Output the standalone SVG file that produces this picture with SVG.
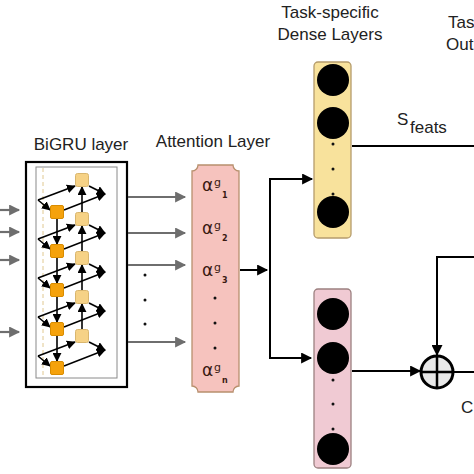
<svg xmlns="http://www.w3.org/2000/svg" width="474" height="474" viewBox="0 0 474 474">
<defs>
<marker id="ab" viewBox="0 0 10 10" refX="9" refY="5" markerWidth="9" markerHeight="9" markerUnits="userSpaceOnUse" orient="auto"><path d="M0,0 L10,5 L0,10 Z" fill="#000"/></marker>
<marker id="ag" viewBox="0 0 10 10" refX="9" refY="5" markerWidth="12" markerHeight="11" markerUnits="userSpaceOnUse" orient="auto"><path d="M0,0 L10,5 L0,10 Z" fill="#6e6e6e"/></marker>
<marker id="ak" viewBox="0 0 10 10" refX="9" refY="5" markerWidth="13" markerHeight="11" markerUnits="userSpaceOnUse" orient="auto"><path d="M0,0 L10,5 L0,10 Z" fill="#000"/></marker>
</defs>
<style>
.lbl{font-family:"Liberation Sans",Arial,sans-serif;font-size:17px;fill:#222}
.al{font-family:"DejaVu Sans","Liberation Sans",sans-serif;fill:#3a1a12}
.g{stroke:#6e6e6e;stroke-width:2.2;fill:none}
.k{stroke:#000;stroke-width:2;fill:none}
.s{stroke:#000;stroke-width:1.6;fill:none}
.dk{fill:#f5a20c;stroke:#d98c00;stroke-width:1}
.lt{fill:#f6d286;stroke:#d9b66e;stroke-width:1}
.dot{fill:#111}
.n{fill:#000}
</style>
<rect width="474" height="474" fill="#fff"/>

<g id="labels">
<text class="lbl" x="81" y="150" text-anchor="middle">BiGRU layer</text>
<text class="lbl" x="213" y="147" text-anchor="middle">Attention Layer</text>
<text class="lbl" x="330" y="18" text-anchor="middle" font-size="16">Task-specific</text>
<text class="lbl" x="330" y="40" text-anchor="middle">Dense Layers</text>
<text class="lbl" x="448" y="28" font-size="16">Tas</text>
<text class="lbl" x="446" y="50">Out</text>
<text class="lbl" x="397" y="125" font-size="18">S</text>
<text class="lbl" x="410" y="133" font-size="10">feats</text>
<text class="lbl" x="461" y="413">C</text>
</g>

<g id="inputs">
<line class="g" x1="0" y1="210" x2="19" y2="210" marker-end="url(#ag)"/>
<line class="g" x1="0" y1="232" x2="19" y2="232" marker-end="url(#ag)"/>
<line class="g" x1="0" y1="260" x2="19" y2="260" marker-end="url(#ag)"/>
<line class="g" x1="0" y1="332" x2="19" y2="332" marker-end="url(#ag)"/>
</g>

<g id="bigru">
<rect x="26" y="162" width="101" height="225" fill="#fff" stroke="#000" stroke-width="2.2"/>
<rect x="36" y="167" width="81" height="211" fill="#fff" stroke="#8a8a8a" stroke-width="1"/>
<line x1="43" y1="168" x2="43" y2="377" stroke="#e0c890" stroke-width="1" stroke-dasharray="4,3"/>
<g id="bigru-links">
<path class="s" d="M38,200 L75,186" marker-end="url(#ab)"/>
<path class="s" d="M38,200 L50,210" marker-end="url(#ab)"/>
<path class="s" d="M89,186 L105,194" marker-end="url(#ab)"/>
<path class="s" d="M64,210 L105,194" marker-end="url(#ab)"/>
<path class="s" d="M38,239 L75,225" marker-end="url(#ab)"/>
<path class="s" d="M38,239 L50,249" marker-end="url(#ab)"/>
<path class="s" d="M89,225 L105,233" marker-end="url(#ab)"/>
<path class="s" d="M64,249 L105,233" marker-end="url(#ab)"/>
<path class="s" d="M38,278 L75,264" marker-end="url(#ab)"/>
<path class="s" d="M38,278 L50,288" marker-end="url(#ab)"/>
<path class="s" d="M89,264 L105,272" marker-end="url(#ab)"/>
<path class="s" d="M64,288 L105,272" marker-end="url(#ab)"/>
<path class="s" d="M38,317 L75,303" marker-end="url(#ab)"/>
<path class="s" d="M38,317 L50,327" marker-end="url(#ab)"/>
<path class="s" d="M89,303 L105,311" marker-end="url(#ab)"/>
<path class="s" d="M64,327 L105,311" marker-end="url(#ab)"/>
<path class="s" d="M38,356 L75,342" marker-end="url(#ab)"/>
<path class="s" d="M38,356 L50,366" marker-end="url(#ab)"/>
<path class="s" d="M89,342 L105,350" marker-end="url(#ab)"/>
<path class="s" d="M64,366 L105,350" marker-end="url(#ab)"/>
<path class="s" d="M57,219 V244" marker-end="url(#ab)"/>
<path class="s" d="M57,258 V283" marker-end="url(#ab)"/>
<path class="s" d="M57,297 V322" marker-end="url(#ab)"/>
<path class="s" d="M57,336 V361" marker-end="url(#ab)"/>
<path class="s" d="M82,212 V187" marker-end="url(#ab)"/>
<path class="s" d="M82,251 V226" marker-end="url(#ab)"/>
<path class="s" d="M82,290 V265" marker-end="url(#ab)"/>
<path class="s" d="M82,329 V304" marker-end="url(#ab)"/>
</g>
<g id="bigru-cells">
<rect class="dk" x="50.5" y="205.5" width="13" height="13" rx="1.5"/>
<rect class="dk" x="50.5" y="244.5" width="13" height="13" rx="1.5"/>
<rect class="dk" x="50.5" y="283.5" width="13" height="13" rx="1.5"/>
<rect class="dk" x="50.5" y="322.5" width="13" height="13" rx="1.5"/>
<rect class="dk" x="50.5" y="361.5" width="13" height="13" rx="1.5"/>
<rect class="lt" x="75.5" y="173.5" width="13" height="13" rx="2"/>
<rect class="lt" x="75.5" y="212.5" width="13" height="13" rx="2"/>
<rect class="lt" x="75.5" y="251.5" width="13" height="13" rx="2"/>
<rect class="lt" x="75.5" y="290.5" width="13" height="13" rx="2"/>
<rect class="lt" x="75.5" y="329.5" width="13" height="13" rx="2"/>
</g>
</g>

<g id="bigru-to-attention">
<line class="g" x1="128" y1="197" x2="185" y2="197" marker-end="url(#ag)"/>
<line class="g" x1="128" y1="233" x2="185" y2="233" marker-end="url(#ag)"/>
<line class="g" x1="128" y1="265" x2="185" y2="265" marker-end="url(#ag)"/>
<line class="g" x1="128" y1="342" x2="185" y2="342" marker-end="url(#ag)"/>
<circle class="dot" cx="145" cy="275" r="1.5"/>
<circle class="dot" cx="145" cy="300" r="1.5"/>
<circle class="dot" cx="145" cy="324" r="1.5"/>
</g>

<g id="attention">
<path d="M198,165 H233 A6,6 0 0 0 239,171 V386 A6,6 0 0 0 233,392 H198 A6,6 0 0 0 192,386 V171 A6,6 0 0 0 198,165 Z" fill="#f6c3be" stroke="#b8906e" stroke-width="1.3"/>
<text class="al" x="202" y="191" font-size="17">α</text><text class="al" x="214" y="186" font-size="11">g</text><text class="al" x="222" y="198" font-size="8" font-weight="bold">1</text>
<text class="al" x="202" y="234" font-size="17">α</text><text class="al" x="214" y="229" font-size="11">g</text><text class="al" x="222" y="241" font-size="8" font-weight="bold">2</text>
<text class="al" x="202" y="276" font-size="17">α</text><text class="al" x="214" y="271" font-size="11">g</text><text class="al" x="222" y="283" font-size="8" font-weight="bold">3</text>
<circle class="dot" cx="215" cy="298" r="1.5"/>
<circle class="dot" cx="215" cy="323" r="1.5"/>
<circle class="dot" cx="215" cy="348" r="1.5"/>
<text class="al" x="202" y="376" font-size="17">α</text><text class="al" x="214" y="371" font-size="11">g</text><text class="al" x="222" y="383" font-size="8" font-weight="bold">n</text>
</g>

<g id="dense-top">
<rect x="314" y="62" width="37" height="176" rx="4" fill="#f8e29c" stroke="#b59c6c" stroke-width="1.3"/>
<circle class="n" cx="333" cy="80" r="16"/>
<circle class="n" cx="333" cy="123" r="16"/>
<circle class="dot" cx="333" cy="144" r="1.5"/>
<circle class="dot" cx="333" cy="169" r="1.5"/>
<circle class="dot" cx="333" cy="194" r="1.5"/>
<circle class="n" cx="333" cy="212" r="16"/>
</g>

<g id="dense-bottom">
<rect x="314" y="289" width="37" height="179" rx="4" fill="#f0cad3" stroke="#9c8080" stroke-width="1.3"/>
<circle class="n" cx="333" cy="314" r="16"/>
<circle class="n" cx="333" cy="358" r="16"/>
<circle class="dot" cx="333" cy="380" r="1.5"/>
<circle class="dot" cx="333" cy="404" r="1.5"/>
<circle class="dot" cx="333" cy="429" r="1.5"/>
<circle class="n" cx="333" cy="449" r="16"/>
</g>

<g id="sum">
<circle cx="437" cy="372" r="16" fill="#e8e8e8" stroke="#000" stroke-width="3"/>
<line x1="421" y1="372" x2="453" y2="372" stroke="#000" stroke-width="2.5"/>
<line x1="437" y1="356" x2="437" y2="388" stroke="#000" stroke-width="2.5"/>
</g>

<g id="connectors">
<line class="k" x1="240" y1="270" x2="267" y2="270" marker-end="url(#ak)"/>
<path class="k" d="M270,179 V358"/>
<line class="k" x1="269" y1="179" x2="312" y2="179" marker-end="url(#ak)"/>
<line class="k" x1="269" y1="358" x2="311" y2="358" marker-end="url(#ak)"/>
<line class="k" x1="352" y1="146" x2="474" y2="146"/>
<line class="k" x1="352" y1="371" x2="420" y2="371" marker-end="url(#ak)"/>
<path class="k" d="M474,257 H437 V355" marker-end="url(#ak)"/>
<line class="k" x1="453" y1="372" x2="474" y2="372"/>
</g>
</svg>
